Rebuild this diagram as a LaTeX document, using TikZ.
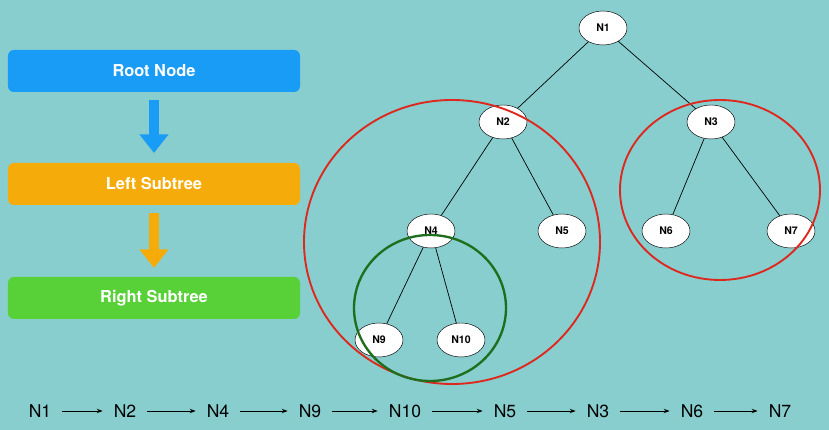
\documentclass[tikz,border=0pt]{standalone}
\usepackage{fontspec}
\setmainfont{TeX Gyre Heros}
\usetikzlibrary{shapes.geometric,arrows.meta}
\definecolor{bgteal}{RGB}{136,206,206}
\definecolor{rootblue}{RGB}{24,156,245}
\definecolor{leftorange}{RGB}{245,172,10}
\definecolor{rightgreen}{RGB}{88,208,56}
\definecolor{ringred}{RGB}{222,40,30}
\definecolor{ringgreen}{RGB}{30,110,30}
\tikzset{
  box/.style={rectangle, rounded corners=5pt, minimum width=8.76cm, minimum height=1.26cm, text=white, font=\fontsize{14}{16}\selectfont\bfseries},
  tnode/.style={ellipse, draw, fill=white, minimum width=1.44cm, minimum height=1.02cm, font=\fontsize{9}{11}\selectfont\bfseries},
  seq/.style={font=\fontsize{15}{18}\selectfont},
  flow/.style={-{Triangle[length=16pt,width=24pt]}, line width=9pt},
  seqarrow/.style={-{Stealth[length=5pt]}, thick, shorten <=6pt, shorten >=6pt}
}
\begin{document}
\begin{tikzpicture}[x=0.03cm,y=-0.03cm]
	\fill [bgteal] (0,0) rectangle (829,430);

	\node at (154,71) [box, fill=rootblue] (root) {Root Node};
	\node at (154,184) [box, fill=leftorange] (left) {Left Subtree};
	\node at (154,298) [box, fill=rightgreen] (right) {Right Subtree};
	\coordinate (a1) at (154,100);
	\coordinate (a2) at (154,153);
	\coordinate (b1) at (154,213);
	\coordinate (b2) at (154,268);
	\draw [flow, rootblue] (a1) -- (a2);
	\draw [flow, leftorange] (b1) -- (b2);

	\node at (603,28) [tnode] (N1) {N1};
	\node at (503,122) [tnode] (N2) {N2};
	\node at (711,122) [tnode] (N3) {N3};
	\node at (431,231) [tnode] (N4) {N4};
	\node at (562,231) [tnode] (N5) {N5};
	\node at (666,231) [tnode] (N6) {N6};
	\node at (791,231) [tnode] (N7) {N7};
	\node at (379,340) [tnode] (N9) {N9};
	\node at (461,340) [tnode] (N10) {N10};

	\draw [semithick]
	  (N1) -- (N2) (N1) -- (N3)
	  (N2) -- (N4) (N2) -- (N5)
	  (N3) -- (N6) (N3) -- (N7)
	  (N4) -- (N9) (N4) -- (N10)
	;

	\draw [ringred, line width=1.6pt] (452,242) ellipse [x radius=148, y radius=142];
	\draw [ringred, line width=1.6pt] (720,190) ellipse [x radius=100, y radius=90];
	\draw [ringgreen, line width=2pt] (430,308) ellipse [x radius=76, y radius=73];

	\foreach \t/\x in {1/40,2/125,4/218,9/310,10/405,5/505,3/598,6/692,7/780}
	  \node at (\x,411) [seq] (s\t) {N\t};
	\foreach \a/\b in {1/2,2/4,4/9,9/10,10/5,5/3,3/6,6/7}
	  \draw [seqarrow] (s\a) -- (s\b);
\end{tikzpicture}
\end{document}
